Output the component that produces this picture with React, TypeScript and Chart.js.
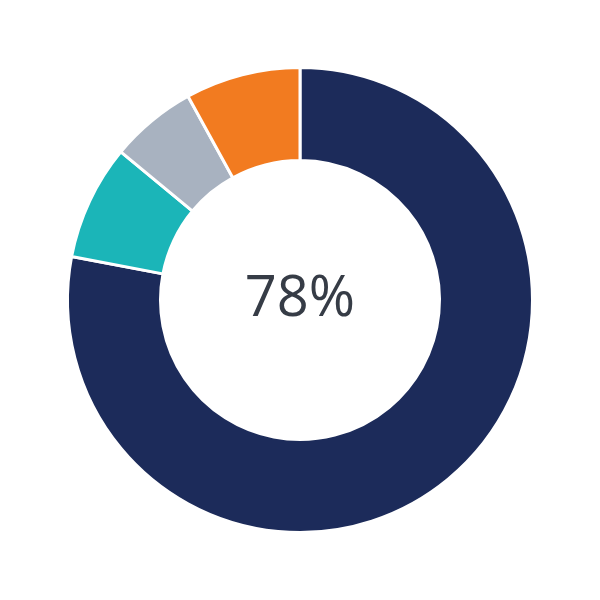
import React, { useEffect, useRef } from "react";
import { Chart, registerables } from "chart.js";

Chart.register(...registerables);

const categories = ["A", "B", "C", "D"];
const values = [78, 8, 6, 8];
const colors = ["#1c2b5a", "#1bb5b8", "#a8b2c0", "#f27b20"];
const centerLabel = "78%";

export default function App() {
  const ref = useRef<HTMLCanvasElement | null>(null);
  useEffect(() => {
    if (!ref.current) return;
    const centerText = {
      id: "centerText",
      afterDraw(chart: any) {
        const { ctx, chartArea } = chart;
        const cx = (chartArea.left + chartArea.right) / 2;
        const cy = (chartArea.top + chartArea.bottom) / 2;
        ctx.save();
        ctx.font = "400 56px 'Open Sans'";
        ctx.fillStyle = "#363c46";
        ctx.textAlign = "center";
        ctx.textBaseline = "middle";
        ctx.fillText(centerLabel, cx, cy);
        ctx.restore();
      },
    };
    const chart = new Chart(ref.current, {
      type: "doughnut",
      data: {
        labels: categories,
        datasets: [
          {
            data: values,
            backgroundColor: colors,
            borderColor: "#ffffff",
            borderWidth: 3,
          },
        ],
      },
      options: {
        animation: false,
        responsive: false,
        cutout: "60%",
        layout: { padding: 66 },
        plugins: { legend: { display: false }, tooltip: { enabled: false } },
      },
      plugins: [centerText],
    });
    return () => chart.destroy();
  }, []);
  return (
    <div style={{ position: "absolute", left: 0, top: 0, width: 600, height: 600, background: "#fff" }}>
      <canvas ref={ref} width={600} height={600} style={{ width: 600, height: 600 }} />
    </div>
  );
}
